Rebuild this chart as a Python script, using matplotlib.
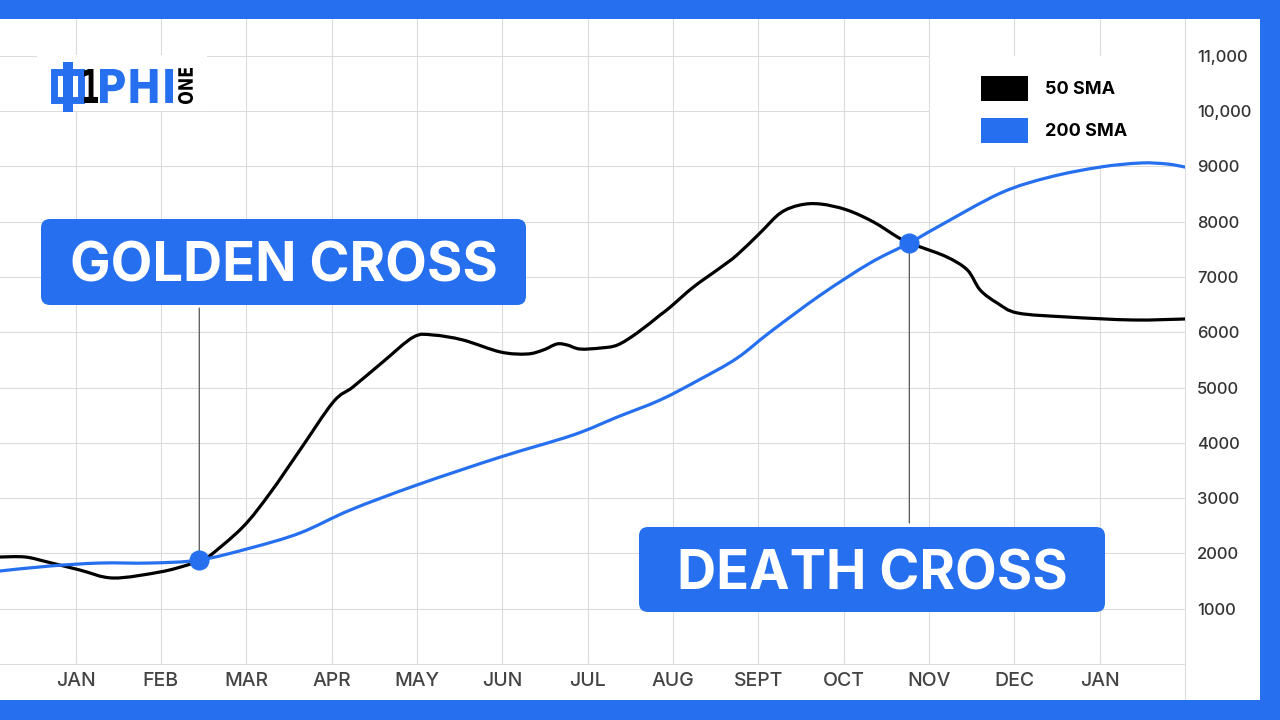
import matplotlib
matplotlib.use("Agg")
import numpy as np
import matplotlib.pyplot as plt
from matplotlib.patches import Rectangle, FancyBboxPatch, PathPatch
from matplotlib.transforms import Affine2D
from matplotlib.lines import Line2D
from matplotlib.path import Path
from matplotlib.textpath import TextPath
from matplotlib.font_manager import FontProperties

# month labels along the bottom (0 = first JAN)
months = ['JAN', 'FEB', 'MAR', 'APR', 'MAY', 'JUN', 'JUL',
          'AUG', 'SEPT', 'OCT', 'NOV', 'DEC', 'JAN']
y_ticks = [1000, 2000, 3000, 4000, 5000, 6000, 7000, 8000, 9000, 10000, 11000]
y_tick_labels = ['1000', '2000', '3000', '4000', '5000', '6000', '7000',
                 '8000', '9000', '10,000', '11,000']

# 50 day simple moving average
sma50_month = [-0.885, -0.59, -0.33, 0.05, 0.44, 0.99, 1.31, 1.45, 1.54, 1.96,
               2.28, 2.63, 3.02, 3.25, 3.60, 3.96, 4.19, 4.54, 4.98, 5.29,
               5.48, 5.64, 5.76, 5.91, 6.15, 6.35, 6.58, 6.85, 6.97, 7.24,
               7.55, 7.75, 8.02, 8.26, 8.49, 8.73, 9.04, 9.35, 9.63, 9.77,
               9.90, 10.21, 10.45, 10.60, 10.80, 11.04, 11.62, 12.39, 13.0]
sma50_value = [1935, 1935, 1845, 1700, 1555, 1664, 1790, 1870, 1917, 2477,
               3092, 3870, 4738, 5009, 5461, 5913, 5949, 5859, 5642, 5606,
               5678, 5787, 5769, 5696, 5714, 5769, 5986, 6311, 6456, 6817,
               7161, 7396, 7794, 8156, 8300, 8318, 8210, 7993, 7722, 7613,
               7541, 7360, 7125, 6763, 6528, 6347, 6275, 6221, 6239]

# 200 day simple moving average
sma200_month = [-0.885, -0.30, 0.29, 0.87, 1.45, 2.05, 2.63, 3.22, 4.00, 4.98,
                5.83, 6.35, 6.85, 7.32, 7.75, 8.14, 8.73, 9.31, 9.77, 10.10,
                10.84, 11.42, 12.01, 12.48, 12.79, 13.0]
sma200_value = [1682, 1772, 1826, 1826, 1880, 2098, 2369, 2785, 3237, 3743,
                4141, 4467, 4774, 5150, 5530, 6004, 6673, 7251, 7613, 7902,
                8517, 8807, 8987, 9060, 9042, 8987]

# crossing points
cross_month = [1.45, 9.77]
cross_value = [1880, 7610]
cross_labels = ['GOLDEN CROSS', 'DEATH CROSS']

BLUE = '#2670EF'
GRID = '#dcdcdc'
W, H = 1280, 720

plt.rcParams['font.family'] = ['Inter', 'DejaVu Sans']

fig = plt.figure(figsize=(12.8, 7.2), dpi=100)
fig.patch.set_facecolor('white')
# pixel coordinates, origin at top left
px = Affine2D().scale(1 / W, -1 / H).translate(0, 1) + fig.transFigure

ax = fig.add_axes([0, (H - 664) / H, 1185 / W, (664 - 19) / H])
ax.set_xlim(-0.885, 13.0)
ax.set_ylim(0, 11664)

ax.set_xticks(range(len(months)))
ax.set_xticklabels(months, fontsize=14, fontweight='medium', color='#444444')
ax.set_yticks(y_ticks)
ax.set_yticklabels(y_tick_labels, fontsize=12, fontweight='medium', color='#333333')
ax.yaxis.tick_right()
ax.tick_params(axis='x', length=0, pad=6)
ax.tick_params(axis='y', length=0, pad=8.5)
ax.grid(True, color=GRID, lw=0.8)
ax.set_axisbelow(True)
for side in ['top', 'left']:
    ax.spines[side].set_visible(False)
for side in ['bottom', 'right']:
    ax.spines[side].set_color(GRID)
    ax.spines[side].set_linewidth(0.8)
fig.add_artist(Line2D([1185, 1185], [664, 700], transform=px, color=GRID, lw=0.8))

# white patches behind logo and legend
ax.add_patch(Rectangle((37, 55), 170, 56, transform=px, facecolor='white',
                       edgecolor='none', zorder=1))
ax.add_patch(Rectangle((930, 56), 255, 110, transform=px, facecolor='white',
                       edgecolor='none', zorder=1))


def smooth_path(xs, ys):
    # Catmull-Rom through the points, drawn as cubic bezier pieces
    p = np.column_stack([xs, ys]).astype(float)
    p = np.vstack([p[0], p, p[-1]])
    verts = [p[1]]
    codes = [Path.MOVETO]
    for i in range(1, len(p) - 2):
        c1 = p[i] + (p[i + 1] - p[i - 1]) / 6
        c2 = p[i + 1] - (p[i + 2] - p[i]) / 6
        verts += [c1, c2, p[i + 1]]
        codes += [Path.CURVE4] * 3
    return Path(verts, codes)


# the two averages
for xs, ys, col in [(sma50_month, sma50_value, 'black'),
                    (sma200_month, sma200_value, BLUE)]:
    ax.add_patch(PathPatch(smooth_path(xs, ys), fill=False, edgecolor=col,
                           lw=2.3, capstyle='round', joinstyle='round', zorder=3))

# annotation boxes + connectors
boxes = [(41, 219, 526, 305), (639, 527, 1105, 612)]
line_ends = [308, 523]
for cx, cy, label, (x0, y0, x1, y1), yend in zip(cross_month, cross_value,
                                                  cross_labels, boxes, line_ends):
    ax.annotate('', xy=(cx, cy), xycoords='data',
                xytext=(cx, yend), textcoords=('data', px),
                arrowprops=dict(arrowstyle='-', color='#555555', lw=0.9,
                                shrinkA=0, shrinkB=0), zorder=2)
    fig.add_artist(FancyBboxPatch((x0, y0), x1 - x0, y1 - y0,
                                  boxstyle='round,pad=0,rounding_size=9',
                                  transform=px, facecolor=BLUE, edgecolor='none',
                                  zorder=2))
    fig.text((x0 + x1) / 2, (y0 + y1) / 2 + 5, label, transform=px, color='white',
             fontsize=39, fontweight='bold', ha='center', va='center', zorder=3)
ax.plot(cross_month, cross_value, 'o', color=BLUE, ms=13.5, zorder=4)

# legend
ax.add_patch(Rectangle((981, 76), 47, 25, transform=px, facecolor='black',
                       edgecolor='none', zorder=2))
ax.add_patch(Rectangle((981, 118), 47, 25, transform=px, facecolor=BLUE,
                       edgecolor='none', zorder=2))
fig.text(1045, 89, '50 SMA', transform=px, fontsize=13, fontweight='bold',
         va='center', ha='left')
fig.text(1045, 131, '200 SMA', transform=px, fontsize=13, fontweight='bold',
         va='center', ha='left')


# logo
def fit_text(s, box, color, rot=False):
    tp = TextPath((0, 0), s, size=100,
                  prop=FontProperties(family='DejaVu Sans', weight='bold'))
    e = tp.get_extents()
    x0, y0, x1, y1 = box
    if rot:
        tr = (Affine2D().translate(-e.x0, -e.y0).rotate_deg(90)
              .scale((x1 - x0) / e.height, (y1 - y0) / e.width)
              .scale(1, -1).translate(x1, y1))
    else:
        tr = (Affine2D().translate(-e.x0, -e.y0)
              .scale((x1 - x0) / e.width, (y1 - y0) / e.height)
              .scale(1, -1).translate(x0, y1))
    fig.add_artist(PathPatch(tp, transform=tr + px, facecolor=color,
                             edgecolor='none', zorder=5))


fig.add_artist(Rectangle((54, 72), 27, 28, transform=px, facecolor='none',
                         edgecolor=BLUE, lw=5, zorder=5))
fig.add_artist(Rectangle((63, 62), 10, 50, transform=px, facecolor=BLUE,
                         edgecolor='none', zorder=5))
fit_text('1', (84, 69, 98, 103), 'black')
fit_text('PHI', (100, 69, 173, 103), BLUE)
fit_text('ONE', (178, 68, 193, 104), 'black', rot=True)

# blue frame
fig.add_artist(Rectangle((0, 0), W, 19, transform=px, facecolor=BLUE,
                         edgecolor='none', zorder=10))
fig.add_artist(Rectangle((1260, 0), 20, H, transform=px, facecolor=BLUE,
                         edgecolor='none', zorder=10))
fig.add_artist(Rectangle((0, 700), W, 20, transform=px, facecolor=BLUE,
                         edgecolor='none', zorder=10))

fig.savefig('out.png', dpi=100)
